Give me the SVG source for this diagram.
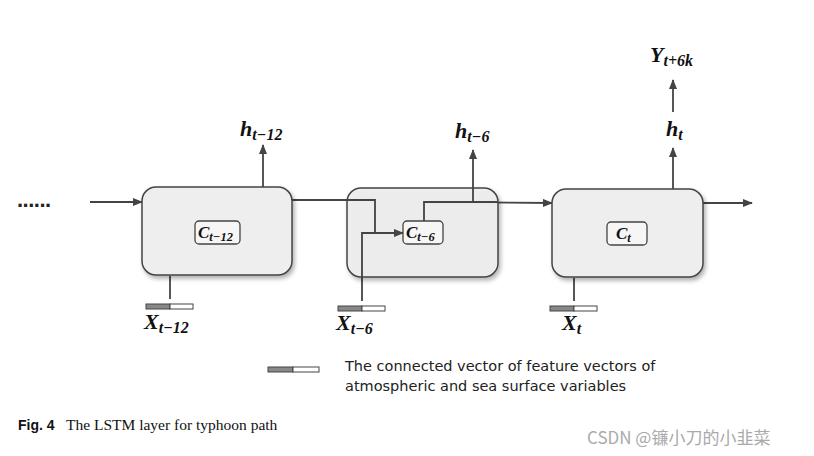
<svg xmlns="http://www.w3.org/2000/svg" width="814" height="456" viewBox="0 0 814 456">
<defs>
<marker id="ar" markerWidth="10" markerHeight="8" refX="9" refY="4" orient="auto" markerUnits="userSpaceOnUse"><path d="M0,0 L10,4 L0,8 z" fill="#444"/></marker>
<filter id="sh" x="-10%" y="-10%" width="125%" height="130%"><feDropShadow dx="2" dy="3" stdDeviation="2" flood-color="#000" flood-opacity="0.3"/></filter>
</defs>
<style>
.cell{fill:#eeeeee;stroke:#444;stroke-width:1.5;filter:url(#sh)}
.cbox{fill:#f6f6f6;stroke:#444;stroke-width:1.3}
.ln{fill:none;stroke:#444;stroke-width:1.8}
.m{font-family:"Liberation Serif",serif;font-weight:bold;font-style:italic;fill:#111}
.bar1{fill:#888;stroke:#444;stroke-width:1}
.bar2{fill:#fff;stroke:#444;stroke-width:1}
.t{font-family:"DejaVu Sans",sans-serif;font-size:14.5px;fill:#222}
</style>
<rect width="814" height="456" fill="#fff"/>
<text x="17" y="207" font-family="Liberation Sans,sans-serif" font-size="22" font-weight="bold" fill="#222" letter-spacing="-0.5">......</text>
<g id="connectors">
<line class="ln" x1="90" y1="202" x2="142" y2="202" marker-end="url(#ar)"/>
<line class="ln" x1="263" y1="187" x2="263" y2="145" marker-end="url(#ar)"/>
<line class="ln" x1="170" y1="276" x2="170" y2="299"/>
<polyline class="ln" points="292,200 375,200 375,233 403,233" marker-end="url(#ar)"/>
<polyline class="ln" points="362,301 362,233 375,233"/>
<polyline class="ln" points="424,222 424,202 552,203" marker-end="url(#ar)"/>
<line class="ln" x1="473" y1="202" x2="473" y2="150" marker-end="url(#ar)"/>
<line class="ln" x1="673" y1="189" x2="673" y2="148" marker-end="url(#ar)"/>
<line class="ln" x1="703" y1="203" x2="752" y2="203" marker-end="url(#ar)"/>
<line class="ln" x1="673" y1="112" x2="673" y2="80" marker-end="url(#ar)"/>
<line class="ln" x1="574" y1="278" x2="574" y2="301"/>
</g>
<g id="cell1">
<rect class="cell" x="142" y="187" width="150" height="88" rx="14"/>
<rect class="cbox" x="195" y="221" width="45" height="23" rx="4"/>
<text class="m" x="198" y="238" font-size="17">C<tspan font-size="12.5" dy="3">t−12</tspan></text>
</g>
<g id="cell2">
<rect class="cell" x="347" y="188" width="151" height="89" rx="14" fill-opacity="0.9"/>
<polyline class="ln" points="347,200 375,200 375,233 403,233" marker-end="url(#ar)"/>
<polyline class="ln" points="362,277 362,233 375,233"/>
<polyline class="ln" points="424,222 424,202 498,202"/>
<line class="ln" x1="473" y1="202" x2="473" y2="188"/>
<rect class="cbox" x="403" y="221" width="40" height="23" rx="4"/>
<text class="m" x="406" y="238" font-size="17">C<tspan font-size="12.5" dy="3">t−6</tspan></text>
</g>
<g id="cell3">
<rect class="cell" x="552" y="189" width="151" height="88" rx="14"/>
<rect class="cbox" x="607" y="222" width="40" height="23" rx="4"/>
<text class="m" x="616" y="239" font-size="17">C<tspan font-size="12.5" dy="3">t</tspan></text>
</g>
<g id="labels">
<text class="m" x="240" y="136" font-size="22">h<tspan font-size="16" dy="4">t−12</tspan></text>
<text class="m" x="455" y="138" font-size="22">h<tspan font-size="16" dy="4">t−6</tspan></text>
<text class="m" x="666" y="136" font-size="22">h<tspan font-size="16" dy="4">t</tspan></text>
<text class="m" x="650" y="62" font-size="22">Y<tspan font-size="16" dy="4">t+6k</tspan></text>
<text class="m" x="144" y="329" font-size="22">X<tspan font-size="16" dy="4">t−12</tspan></text>
<text class="m" x="336" y="330" font-size="22">X<tspan font-size="16" dy="4">t−6</tspan></text>
<text class="m" x="562" y="330" font-size="22">X<tspan font-size="16" dy="4">t</tspan></text>
</g>
<g id="bars">
<rect class="bar1" x="146" y="304" width="24" height="5"/><rect class="bar2" x="170" y="304" width="23" height="5"/>
<rect class="bar1" x="338" y="306" width="24" height="5"/><rect class="bar2" x="362" y="306" width="23" height="5"/>
<rect class="bar1" x="550" y="306" width="24" height="5"/><rect class="bar2" x="574" y="306" width="23" height="5"/>
<rect class="bar1" x="268" y="367" width="25" height="5"/><rect class="bar2" x="293" y="367" width="26" height="5"/>
</g>
<g id="legend">
<text class="t" x="345" y="371">The connected vector of feature vectors of</text>
<text class="t" x="345" y="391">atmospheric and sea surface variables</text>
</g>
<text x="18" y="430" font-family="Liberation Sans,sans-serif" font-weight="bold" font-size="14" fill="#111">Fig. 4</text>
<text x="66" y="430" font-family="Liberation Serif,serif" font-size="15.5" fill="#111">The LSTM layer for typhoon path</text>
<text x="587" y="444" font-family="Noto Sans CJK SC,sans-serif" font-size="17" fill="#aaa">CSDN @镰小刀的小韭菜</text>
</svg>
